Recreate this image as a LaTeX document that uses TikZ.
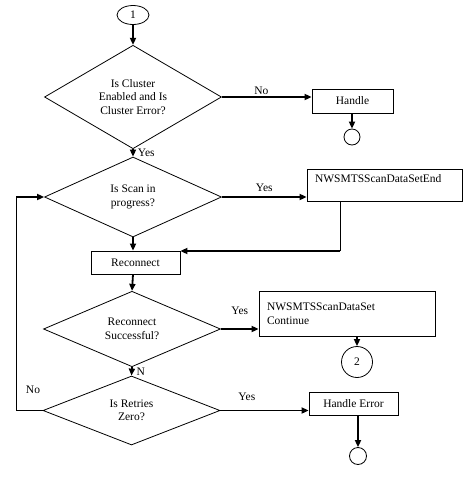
\documentclass[tikz,border=0pt]{standalone}
\usepackage{fontspec}
\setmainfont{Liberation Serif}
\usepackage{tikz}
\usetikzlibrary{
    arrows.meta,
    shapes.geometric
}

\begin{document}
\begin{tikzpicture}[x=1pt,y=-1pt,>={Triangle[length=7pt,width=6pt]},font=\fontsize{11.5}{13.5}\selectfont]
    \tikzstyle{every node}=[inner sep=0pt]
    \tikzstyle{decision}=[draw, line width=0.8pt, shape=diamond, align=center, minimum width=177pt]
    \tikzstyle{box}=[draw, line width=0.8pt, shape=rectangle]
    \tikzstyle{term}=[draw, line width=0.8pt, shape=circle]
    \tikzstyle{flow}=[->, line width=1.8pt]
    \useasboundingbox (0,0) rectangle (473,477);
    \node[draw, line width=0.8pt, shape=ellipse, minimum width=32pt, minimum height=19pt] (one) at (133, 15){1};
    \node[decision, minimum height=80pt] (cluster) at (133, 97){Is Cluster\\Enabled and Is\\Cluster Error?};
    \node[box, minimum width=81pt, minimum height=24pt] (handle) at (352.5, 101){Handle};
    \node[term, minimum size=16pt] (stop1) at (352, 137){};
    \node[decision, minimum height=80pt] (scan) at (133, 197){Is Scan in\\progress?};
    \node[box, minimum width=155pt, minimum height=32pt, text width=139pt, align=left, text depth=12pt] (scanend) at (384.5, 185){NWSMTSScanDataSetEnd};
    \node[box, minimum width=89pt, minimum height=23pt] (reconnect) at (135.5, 262.5){Reconnect};
    \node[decision, minimum height=64pt] (success) at (132, 329){Reconnect\\Successful?};
    \node[box, minimum width=176pt, minimum height=45pt, text width=160pt, align=left] (scancont) at (347, 313.5){NWSMTSScanDataSet\\Continue};
    \node[term, minimum size=31pt] (two) at (357, 362){2};
    \node[decision, minimum height=69pt] (retries) at (131.5, 410.5){Is Retries\\Zero?};
    \node[box, minimum width=89pt, minimum height=23pt] (handleerr) at (353.5, 403.5){Handle Error};
    \node[term, minimum size=17pt] (stop2) at (358, 456){};
    \coordinate (join) at (340, 251);
    \coordinate (loop) at (16, 410.5);
    \node (nolabel) at (33, 390){No};
    \draw[flow] (one) -- (cluster);
    \draw[flow] (cluster.east) -- node[pos=0.44, above=1pt]{No} (cluster.east -| handle.west);
    \draw[flow] (handle.south -| stop1) -- (stop1);
    \draw[flow] (cluster.south) -- node[right=4pt]{Yes} (scan.north);
    \draw[flow] (scan.east) -- node[above=4pt]{Yes} (scan.east -| scanend.west);
    \draw[line width=0.8pt] (scanend.south -| join) -- (join);
    \draw[flow] (join) -- (join -| reconnect.east);
    \draw[flow] (scan.south) -- (scan.south |- reconnect.north);
    \draw[flow] (scan.south |- reconnect.south) -- (success.north);
    \draw[flow] (success.east) -- node[above=13pt]{Yes} (success.east -| scancont.west);
    \draw[flow] (scancont.south -| two) -- (two);
    \draw[flow] (success.south) -- node[right=4pt]{N} (retries.north);
    \draw[flow] (retries.east) -- node[pos=0.3, above=9pt]{Yes} (retries.east -| handleerr.west);
    \draw[flow] (handleerr.south -| stop2) -- (stop2);
    \draw[line width=0.8pt] (retries.west) -- (loop) -- (loop |- scan.west);
    \draw[flow] (loop |- scan.west) -- (scan.west);
\end{tikzpicture}
\end{document}
